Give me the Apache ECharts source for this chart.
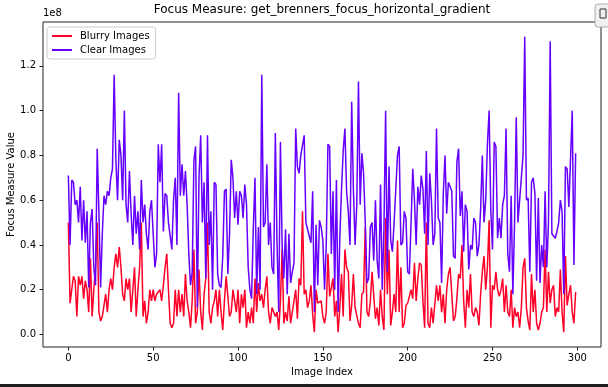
<!DOCTYPE html>
<html><head><meta charset="utf-8">
<script src="https://cdn.jsdelivr.net/npm/echarts@6/dist/echarts.min.js"></script>
<style>html,body{margin:0;padding:0;background:#fff}#c{width:608px;height:387px}</style>
</head><body><div id="c"></div>
<script>
// values in units of 1e8
const blurry = [
0.50,0.14,0.20,0.26,0.24,0.08,0.26,0.22,0.26,0.16,
0.24,0.20,0.10,0.34,0.08,0.20,0.30,0.50,0.10,0.06,
0.08,0.08,0.18,0.10,0.20,0.25,0.20,0.30,0.36,0.30,
0.39,0.30,0.18,0.15,0.25,0.20,0.25,0.10,0.20,0.30,
0.08,0.20,0.30,0.50,0.08,0.15,0.05,0.10,0.20,0.15,
0.20,0.15,0.18,0.18,0.20,0.15,0.22,0.30,0.36,0.20,
0.05,0.03,0.05,0.20,0.08,0.20,0.10,0.18,0.08,0.27,
0.15,0.10,0.03,0.15,0.38,0.05,0.10,0.29,0.10,0.02,
0.18,0.25,0.50,0.10,0.05,0.12,0.15,0.20,0.08,0.20,
0.10,0.02,0.15,0.26,0.26,0.08,0.10,0.20,0.20,0.10,
0.20,0.05,0.18,0.12,0.20,0.03,0.10,0.05,0.12,0.05,
0.25,0.10,0.23,0.15,0.18,0.12,0.20,0.26,0.10,0.05,
0.12,0.12,0.08,0.10,0.02,0.15,0.38,0.05,0.10,0.06,
0.17,0.05,0.10,0.15,0.20,0.07,0.25,0.22,0.55,0.18,
0.20,0.12,0.15,0.22,0.09,0.01,0.20,0.14,0.14,0.15,
0.08,0.05,0.10,0.36,0.17,0.17,0.25,0.08,0.15,0.01,
0.12,0.27,0.08,0.38,0.30,0.28,0.06,0.13,0.27,0.12,
0.12,0.05,0.03,0.18,0.19,0.48,0.10,0.08,0.15,0.28,
0.28,0.07,0.12,0.04,0.20,0.08,0.02,0.52,0.18,0.38,
0.04,0.10,0.18,0.10,0.42,0.10,0.30,0.03,0.05,0.13,
0.14,0.14,0.20,0.16,0.32,0.15,0.25,0.32,0.31,0.15,
0.03,0.50,0.05,0.03,0.12,0.05,0.05,0.22,0.15,0.22,
0.10,0.18,0.05,0.20,0.27,0.30,0.30,0.06,0.08,0.16,
0.27,0.25,0.40,0.15,0.03,0.20,0.12,0.27,0.10,0.08,
0.12,0.10,0.04,0.18,0.28,0.35,0.20,0.30,0.51,0.03,
0.22,0.20,0.28,0.20,0.17,0.20,0.25,0.10,0.22,0.10,
0.08,0.20,0.03,0.12,0.08,0.10,0.03,0.12,0.30,0.34,
0.12,0.06,0.02,0.27,0.10,0.20,0.05,0.02,0.05,0.10,
0.12,0.38,0.10,0.28,0.14,0.20,0.22,0.08,0.12,0.10,
0.29,0.10,0.01,0.35,0.13,0.18,0.22,0.10,0.05,0.19
];
const clear = [
0.71,0.40,0.69,0.68,0.58,0.60,0.50,0.66,0.42,0.60,
0.41,0.55,0.21,0.50,0.56,0.30,0.22,0.83,0.55,0.21,
0.45,0.62,0.58,0.64,0.62,0.70,0.74,1.16,0.78,0.60,
0.87,0.80,0.60,1.00,0.58,0.50,0.73,0.54,0.40,0.62,
0.45,0.55,0.38,0.69,0.50,0.58,0.45,0.38,0.55,0.60,
0.45,0.30,0.36,0.85,0.68,0.85,0.46,0.63,0.62,0.50,
0.44,0.38,0.60,0.70,0.40,1.08,0.62,0.76,0.62,0.73,
0.58,0.36,0.22,0.28,0.78,0.84,0.12,0.70,0.89,0.50,
0.68,0.25,0.89,0.40,0.55,0.20,0.68,0.67,0.27,0.22,
0.21,0.35,0.64,0.65,0.27,0.45,0.78,0.70,0.52,0.64,
0.49,0.64,0.62,0.52,0.67,0.58,0.30,0.20,0.16,0.47,
0.70,0.18,0.48,0.20,1.16,0.48,0.50,0.76,0.40,0.50,
0.30,0.27,0.90,0.40,0.10,0.86,0.40,0.25,0.47,0.18,
0.45,0.23,0.28,0.32,0.92,0.75,0.72,0.80,0.80,0.89,
0.50,0.50,0.44,0.41,0.64,0.10,0.49,0.22,0.51,0.48,
0.42,0.20,0.40,0.85,0.84,0.36,0.64,0.20,0.69,0.10,
0.43,0.65,0.82,0.92,0.64,0.55,0.40,1.04,0.65,0.40,
0.58,1.13,0.58,0.81,0.72,0.50,0.23,0.25,0.48,0.50,
0.33,0.60,0.33,0.25,0.67,0.20,0.47,1.00,0.28,0.75,
0.42,0.37,0.50,0.65,0.80,0.84,0.40,0.41,0.55,0.52,
0.28,0.27,0.50,0.74,0.60,0.40,0.66,0.58,0.71,0.65,
0.45,0.82,0.40,0.72,0.60,0.40,0.45,0.92,0.52,0.50,
0.23,0.63,0.80,0.54,0.68,0.68,0.64,0.35,0.34,0.77,
0.83,0.53,0.64,0.37,0.58,0.55,0.29,0.40,0.38,0.52,
0.50,0.35,0.40,0.56,0.80,0.50,0.60,0.85,1.00,0.55,
0.38,0.86,0.84,0.43,0.52,0.43,0.58,0.62,0.92,0.36,
0.28,0.62,0.18,0.50,0.97,0.50,0.60,0.70,0.80,1.33,
0.60,0.61,0.28,0.68,0.70,0.63,0.24,0.61,0.23,0.40,
0.30,0.64,0.30,0.50,1.31,0.45,0.45,0.43,0.46,0.50,
0.60,0.55,0.18,0.75,0.74,0.57,0.57,1.00,0.31,0.81
];
const seriesNames = ['Blurry Images', 'Clear Images'];
const xTicks = [0, 50, 100, 150, 200, 250, 300];
const yTicks = [0.0, 0.2, 0.4, 0.6, 0.8, 1.0, 1.2];
const titleText = 'Focus Measure: get_brenners_focus_horizontal_gradient';
const xName = 'Image Index';
const yName = 'Focus Measure Value';
const scaleText = '1e8';

const FONT = 'DejaVu Sans';
const n = clear.length;
const xMin = -0.05 * (n - 1), xMax = (n - 1) * 1.05;
const all = blurry.concat(clear);
const dMin = Math.min(...all), dMax = Math.max(...all);
const yMin = dMin - 0.05 * (dMax - dMin), yMax = dMax + 0.05 * (dMax - dMin);

const chart = echarts.init(document.getElementById('c'));
chart.setOption({
  animation: false,
  backgroundColor: '#fff',
  grid: { left: 43, right: 7, top: 22, bottom: 40, containLabel: false, outerBoundsMode: 'none',
    show: true, borderColor: '#222', borderWidth: 1, backgroundColor: 'transparent' },
  xAxis: {
    type: 'value', min: xMin, max: xMax,
    name: xName, nameLocation: 'middle', nameGap: 20, nameMoveOverlap: false,
    nameTextStyle: { fontFamily: FONT, fontSize: 10, color: '#000' },
    axisLine: { show: false, onZero: false },
    splitLine: { show: false },
    axisTick: { show: true, length: 3.5, customValues: xTicks, lineStyle: { color: '#222' } },
    axisLabel: { customValues: xTicks, margin: 6, fontFamily: FONT, fontSize: 10, color: '#000' }
  },
  yAxis: {
    type: 'value', min: yMin, max: yMax,
    name: yName, nameLocation: 'middle', nameGap: 27, nameMoveOverlap: false,
    nameTextStyle: { fontFamily: FONT, fontSize: 10, color: '#000' },
    axisLine: { show: false, onZero: false },
    splitLine: { show: false },
    axisTick: { show: true, length: 3.5, customValues: yTicks, lineStyle: { color: '#222' } },
    axisLabel: { customValues: yTicks, margin: 7, fontFamily: FONT, fontSize: 10, color: '#000',
      formatter: v => v.toFixed(1) }
  },
  legend: {
    left: 47, top: 27, orient: 'vertical',
    data: seriesNames.map(s => ({ name: s, icon: 'rect' })),
    itemWidth: 20, itemHeight: 2, itemGap: 4,
    padding: [4, 6, 4, 5],
    backgroundColor: 'rgba(255,255,255,0.8)', borderColor: '#ccc', borderWidth: 1, borderRadius: 3,
    textStyle: { fontFamily: FONT, fontSize: 10, color: '#000', padding: [0, 0, 0, 3] }
  },
  series: [
    { name: seriesNames[0], type: 'line', showSymbol: false, symbol: 'none',
      data: blurry.map((v, i) => [i, v]),
      lineStyle: { width: 1.5, color: '#ff0028' }, itemStyle: { color: '#ff0028' } },
    { name: seriesNames[1], type: 'line', showSymbol: false, symbol: 'none',
      data: clear.map((v, i) => [i, v]),
      lineStyle: { width: 1.5, color: '#6600ff' }, itemStyle: { color: '#6600ff' } }
  ],
  graphic: [
    { type: 'text', x: 322, y: 4, style: { text: titleText, font: '12px "DejaVu Sans"', fill: '#000', align: 'center', verticalAlign: 'top' } },
    { type: 'text', x: 43, y: 8, style: { text: scaleText, font: '10px "DejaVu Sans"', fill: '#000', align: 'left', verticalAlign: 'top' } },
    { type: 'rect', shape: { x: 595, y: 4, width: 20, height: 23, r: 3 }, style: { fill: '#f0f0f0', stroke: '#adadad', lineWidth: 1 } },
    { type: 'rect', shape: { x: 600, y: 9, width: 6, height: 9 }, style: { fill: 'none', stroke: '#333', lineWidth: 1 } },
    { type: 'rect', shape: { x: 0, y: 384, width: 608, height: 3 }, style: { fill: '#1e1e1e' } }
  ]
});
</script>
</body></html>
